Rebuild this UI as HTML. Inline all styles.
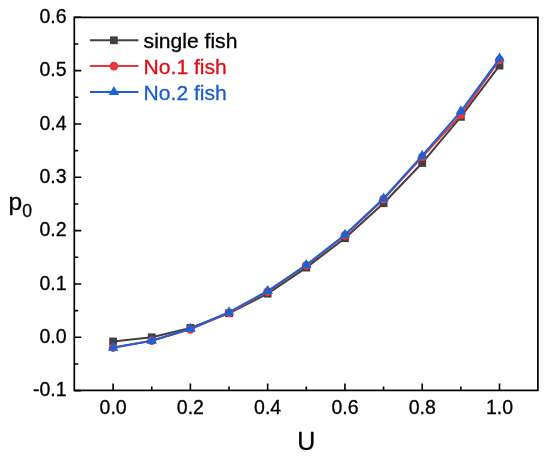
<!DOCTYPE html>
<html><head><meta charset="utf-8"><style>
html,body{margin:0;padding:0;background:#fff;}
body{width:550px;height:458px;overflow:hidden;}
svg{display:block;}
text{font-family:'Liberation Sans', Arial, sans-serif;font-size:19.5px;fill:#000;stroke:#000;stroke-width:0.3px;}
</style></head><body>
<svg width="550" height="458" viewBox="0 0 550 458">
<rect x="74.3" y="17.4" width="463.6" height="373" fill="none" stroke="#000" stroke-width="1.7"/>
<path d="M74.3 390.64h7M74.3 363.97h4M74.3 337.3h7M74.3 310.63h4M74.3 283.96h7M74.3 257.29h4M74.3 230.62h7M74.3 203.95h4M74.3 177.28h7M74.3 150.61h4M74.3 123.94h7M74.3 97.27h4M74.3 70.6h7M74.3 43.93h4M74.3 17.26h7M113.1 390.4v-7M151.74 390.4v-4M190.38 390.4v-7M229.02 390.4v-4M267.66 390.4v-7M306.3 390.4v-4M344.94 390.4v-7M383.58 390.4v-4M422.22 390.4v-7M460.86 390.4v-4M499.5 390.4v-7" stroke="#000" stroke-width="1.6" fill="none"/>
<text x="66.5" y="396.24" text-anchor="end">-0.1</text>
<text x="66.5" y="342.9" text-anchor="end">0.0</text>
<text x="66.5" y="289.56" text-anchor="end">0.1</text>
<text x="66.5" y="236.22" text-anchor="end">0.2</text>
<text x="66.5" y="182.88" text-anchor="end">0.3</text>
<text x="66.5" y="129.54" text-anchor="end">0.4</text>
<text x="66.5" y="76.2" text-anchor="end">0.5</text>
<text x="66.5" y="22.86" text-anchor="end">0.6</text>
<text x="113.1" y="413.6" text-anchor="middle">0.0</text>
<text x="190.38" y="413.6" text-anchor="middle">0.2</text>
<text x="267.66" y="413.6" text-anchor="middle">0.4</text>
<text x="344.94" y="413.6" text-anchor="middle">0.6</text>
<text x="422.22" y="413.6" text-anchor="middle">0.8</text>
<text x="499.5" y="413.6" text-anchor="middle">1.0</text>
<path d="M113.1 341.46 L151.74 337.3 L190.38 327.91 L229.02 313.3 L267.66 293.67 L306.3 267.58 L344.94 238.19 L383.58 203.2 L422.22 162.98 L460.86 116.85 L499.5 65.59" stroke="#404040" stroke-width="2.0" fill="none" stroke-linejoin="round"/><rect x="109.2" y="337.56" width="7.8" height="7.8" fill="#404040"/><rect x="147.84" y="333.4" width="7.8" height="7.8" fill="#404040"/><rect x="186.48" y="324.01" width="7.8" height="7.8" fill="#404040"/><rect x="225.12" y="309.4" width="7.8" height="7.8" fill="#404040"/><rect x="263.76" y="289.77" width="7.8" height="7.8" fill="#404040"/><rect x="302.4" y="263.68" width="7.8" height="7.8" fill="#404040"/><rect x="341.04" y="234.29" width="7.8" height="7.8" fill="#404040"/><rect x="379.68" y="199.3" width="7.8" height="7.8" fill="#404040"/><rect x="418.32" y="159.08" width="7.8" height="7.8" fill="#404040"/><rect x="456.96" y="112.95" width="7.8" height="7.8" fill="#404040"/><rect x="495.6" y="61.69" width="7.8" height="7.8" fill="#404040"/>
<path d="M113.1 347.54 L151.74 340.71 L190.38 329.3 L229.02 312.76 L267.66 291.69 L306.3 265.4 L344.94 235.42 L383.58 199.15 L422.22 157.01 L460.86 114.61 L499.5 59.93" stroke="#e8363f" stroke-width="2.0" fill="none" stroke-linejoin="round"/><circle cx="113.1" cy="347.54" r="4.35" fill="#e8363f"/><circle cx="151.74" cy="340.71" r="4.35" fill="#e8363f"/><circle cx="190.38" cy="329.3" r="4.35" fill="#e8363f"/><circle cx="229.02" cy="312.76" r="4.35" fill="#e8363f"/><circle cx="267.66" cy="291.69" r="4.35" fill="#e8363f"/><circle cx="306.3" cy="265.4" r="4.35" fill="#e8363f"/><circle cx="344.94" cy="235.42" r="4.35" fill="#e8363f"/><circle cx="383.58" cy="199.15" r="4.35" fill="#e8363f"/><circle cx="422.22" cy="157.01" r="4.35" fill="#e8363f"/><circle cx="460.86" cy="114.61" r="4.35" fill="#e8363f"/><circle cx="499.5" cy="59.93" r="4.35" fill="#e8363f"/>
<path d="M113.1 347.75 L151.74 340.71 L190.38 328.77 L229.02 312.23 L267.66 291 L306.3 264.92 L344.94 234.67 L383.58 198.51 L422.22 155.68 L460.86 111.3 L499.5 58.6" stroke="#1a63d4" stroke-width="2.0" fill="none" stroke-linejoin="round"/><path d="M113.1 341.73L118.35 350.76L107.85 350.76Z" fill="#1a63d4"/><path d="M151.74 334.69L156.99 343.72L146.49 343.72Z" fill="#1a63d4"/><path d="M190.38 322.75L195.63 331.78L185.13 331.78Z" fill="#1a63d4"/><path d="M229.02 306.21L234.27 315.24L223.77 315.24Z" fill="#1a63d4"/><path d="M267.66 284.98L272.91 294.01L262.41 294.01Z" fill="#1a63d4"/><path d="M306.3 258.9L311.55 267.93L301.05 267.93Z" fill="#1a63d4"/><path d="M344.94 228.65L350.19 237.68L339.69 237.68Z" fill="#1a63d4"/><path d="M383.58 192.49L388.83 201.52L378.33 201.52Z" fill="#1a63d4"/><path d="M422.22 149.66L427.47 158.69L416.97 158.69Z" fill="#1a63d4"/><path d="M460.86 105.28L466.11 114.31L455.61 114.31Z" fill="#1a63d4"/><path d="M499.5 52.58L504.75 61.61L494.25 61.61Z" fill="#1a63d4"/>
<path d="M89.9 40.3H138.4" stroke="#404040" stroke-width="2.0"/>
<rect x="110" y="36.4" width="7.8" height="7.8" fill="#404040"/>
<text x="143.6" y="47.5" style="font-size:21.1px;fill:#000;stroke:#000">single fish</text>
<path d="M89.9 66.1H138.4" stroke="#e8363f" stroke-width="2.0"/>
<circle cx="113.9" cy="66.1" r="4.35" fill="#e8363f"/>
<text x="143.6" y="73.6" style="font-size:21.1px;fill:#e30a14;stroke:#e30a14">No.1 fish</text>
<path d="M89.9 92.1H138.4" stroke="#1a63d4" stroke-width="2.0"/>
<path d="M113.9 86.08L119.15 95.11L108.65 95.11Z" fill="#1a63d4"/>
<text x="143.6" y="99.6" style="font-size:21.1px;fill:#1a5cd2;stroke:#1a5cd2">No.2 fish</text>
<text x="8.5" y="209.7" style="font-size:24.5px">p<tspan style="font-size:17.6px" dy="7.5">0</tspan></text>
<text x="297.3" y="450.1" style="font-size:25px">U</text>
</svg>
</body></html>
